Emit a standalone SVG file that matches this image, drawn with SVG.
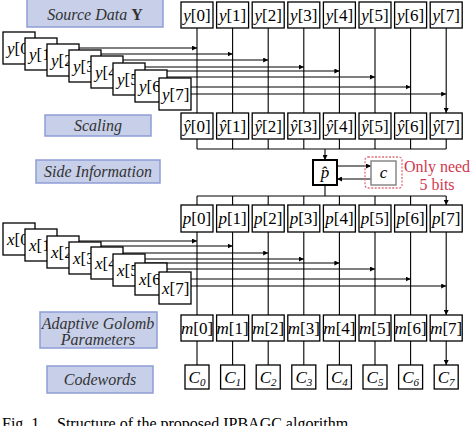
<svg xmlns="http://www.w3.org/2000/svg" width="474" height="426" viewBox="0 0 474 426">
<style>
.bx{fill:#fff;stroke:#000;stroke-width:1.3}
.lb{fill:#c7cfe9;stroke:#8e9dd6;stroke-width:1.5}
.lt{font-family:"Liberation Serif","Times New Roman",serif;font-style:italic;font-size:16px;fill:#333;text-anchor:middle}
.t{font-family:"Liberation Serif","Times New Roman",serif;font-size:17px;fill:#000;text-anchor:middle}
.tl{font-family:"Liberation Serif","Times New Roman",serif;font-size:17px;fill:#000}
.i{font-style:italic}
.ln{stroke:#000;stroke-width:1.1;fill:none}
.red{font-family:"Liberation Serif","Times New Roman",serif;font-size:16px;fill:#d0384e;text-anchor:middle}
</style>
<defs>
<marker id="a" viewBox="0 0 8 8" refX="8" refY="4" markerWidth="5" markerHeight="5" orient="auto" markerUnits="userSpaceOnUse">
<path d="M0,0 L8,4 L0,8 z" fill="#000"/>
</marker>
</defs>

<g id="labels">
<g id="lbl-source"><rect class="lb" x="27" y="-2" width="136" height="29"/><text class="lt" x="95" y="20">Source Data <tspan font-style="normal" font-weight="bold">Y</tspan></text></g>
<g id="lbl-scaling"><rect class="lb" x="45" y="115" width="106" height="21"/><text class="lt" x="98" y="131">Scaling</text></g>
<g id="lbl-side"><rect class="lb" x="36" y="160" width="124" height="23"/><text class="lt" x="98" y="177">Side Information</text></g>
<g id="lbl-agp"><rect class="lb" x="40" y="312" width="117" height="36"/><text class="lt" x="98" y="329">Adaptive Golomb</text><text class="lt" x="98" y="345">Parameters</text></g>
<g id="lbl-code"><rect class="lb" x="47" y="366" width="106" height="27"/><text class="lt" x="100" y="385">Codewords</text></g>
</g>

<g id="connectors">
<path class="ln" marker-end="url(#a)" d="M197,28 V113 M232.6,28 V113 M268.2,28 V113 M303.8,28 V113 M339.4,28 V113 M375,28 V113 M410.6,28 V113 M446.2,28 V113"/>
<path class="ln" marker-end="url(#a)" d="M35,48 H197"/>
<path class="ln" marker-end="url(#a)" d="M57,54 H232.6"/>
<path class="ln" marker-end="url(#a)" d="M79,60 H268.2"/>
<path class="ln" marker-end="url(#a)" d="M101,67 H303.8"/>
<path class="ln" marker-end="url(#a)" d="M123,71 H339.4"/>
<path class="ln" marker-end="url(#a)" d="M145,77 H375"/>
<path class="ln" marker-end="url(#a)" d="M167,87 H410.6"/>
<path class="ln" marker-end="url(#a)" d="M191,94 H446.2"/>
<path class="ln" d="M197,139 V149 M232.6,139 V149 M268.2,139 V149 M303.8,139 V149 M339.4,139 V149 M375,139 V149 M410.6,139 V149 M446.2,139 V149 M197,149 H446.2"/>
<path class="ln" marker-end="url(#a)" d="M325,149 V160"/>
<path class="ln" marker-end="url(#a)" d="M337,166 H371"/>
<path class="ln" marker-end="url(#a)" d="M371,179 H337"/>
<path class="ln" d="M325,185 V196 M197,196 H446.2"/>
<path class="ln" marker-end="url(#a)" d="M197,196 V205 M232.6,196 V205 M268.2,196 V205 M303.8,196 V205 M339.4,196 V205 M375,196 V205 M410.6,196 V205 M446.2,196 V205"/>
<path class="ln" marker-end="url(#a)" d="M197,232 V315 M232.6,232 V315 M268.2,232 V315 M303.8,232 V315 M339.4,232 V315 M375,232 V315 M410.6,232 V315 M446.2,232 V315"/>
<path class="ln" marker-end="url(#a)" d="M35,241 H197"/>
<path class="ln" marker-end="url(#a)" d="M57,246 H232.6"/>
<path class="ln" marker-end="url(#a)" d="M79,253 H268.2"/>
<path class="ln" marker-end="url(#a)" d="M101,259 H303.8"/>
<path class="ln" marker-end="url(#a)" d="M123,263 H339.4"/>
<path class="ln" marker-end="url(#a)" d="M145,269 H375"/>
<path class="ln" marker-end="url(#a)" d="M167,279 H410.6"/>
<path class="ln" marker-end="url(#a)" d="M191,286 H446.2"/>
<path class="ln" marker-end="url(#a)" d="M197,341 V365 M232.6,341 V365 M268.2,341 V365 M303.8,341 V365 M339.4,341 V365 M375,341 V365 M410.6,341 V365 M446.2,341 V365"/>
</g>

<g id="y-cascade">
<g id="yc0"><rect class="bx" x="3" y="32" width="32" height="32"/><text class="tl" x="7" y="54"><tspan class="i">y</tspan>[0]</text></g>
<g id="yc1"><rect class="bx" x="25" y="38" width="32" height="32"/><text class="tl" x="29" y="60"><tspan class="i">y</tspan>[1]</text></g>
<g id="yc2"><rect class="bx" x="47" y="44" width="32" height="32"/><text class="tl" x="51" y="66"><tspan class="i">y</tspan>[2]</text></g>
<g id="yc3"><rect class="bx" x="69" y="50" width="32" height="32"/><text class="tl" x="73" y="72"><tspan class="i">y</tspan>[3]</text></g>
<g id="yc4"><rect class="bx" x="91" y="56" width="32" height="32"/><text class="tl" x="95" y="78"><tspan class="i">y</tspan>[4]</text></g>
<g id="yc5"><rect class="bx" x="113" y="63" width="32" height="32"/><text class="tl" x="117" y="85"><tspan class="i">y</tspan>[5]</text></g>
<g id="yc6"><rect class="bx" x="135" y="70" width="32" height="32"/><text class="tl" x="139" y="92"><tspan class="i">y</tspan>[6]</text></g>
<g id="yc7"><rect class="bx" x="159" y="78" width="32" height="32"/><text class="tl" x="162" y="100"><tspan class="i">y</tspan>[7]</text></g>
</g>

<g id="x-cascade">
<g id="xc0"><rect class="bx" x="3" y="223" width="32" height="32"/><text class="tl" x="7" y="245"><tspan class="i">x</tspan>[0]</text></g>
<g id="xc1"><rect class="bx" x="25" y="229" width="32" height="32"/><text class="tl" x="29" y="251"><tspan class="i">x</tspan>[1]</text></g>
<g id="xc2"><rect class="bx" x="47" y="236" width="32" height="32"/><text class="tl" x="51" y="258"><tspan class="i">x</tspan>[2]</text></g>
<g id="xc3"><rect class="bx" x="69" y="242" width="32" height="32"/><text class="tl" x="73" y="264"><tspan class="i">x</tspan>[3]</text></g>
<g id="xc4"><rect class="bx" x="91" y="247" width="32" height="32"/><text class="tl" x="95" y="269"><tspan class="i">x</tspan>[4]</text></g>
<g id="xc5"><rect class="bx" x="113" y="254" width="32" height="32"/><text class="tl" x="117" y="276"><tspan class="i">x</tspan>[5]</text></g>
<g id="xc6"><rect class="bx" x="135" y="263" width="32" height="32"/><text class="tl" x="139" y="285"><tspan class="i">x</tspan>[6]</text></g>
<g id="xc7"><rect class="bx" x="159" y="272" width="32" height="32"/><text class="tl" x="162" y="294"><tspan class="i">x</tspan>[7]</text></g>
</g>

<g id="y-row">
<g id="y0"><rect class="bx" x="181" y="2" width="32" height="26"/><text class="t" x="197" y="21"><tspan class="i">y</tspan>[0]</text></g>
<g id="y1"><rect class="bx" x="216.6" y="2" width="32" height="26"/><text class="t" x="232.6" y="21"><tspan class="i">y</tspan>[1]</text></g>
<g id="y2"><rect class="bx" x="252.2" y="2" width="32" height="26"/><text class="t" x="268.2" y="21"><tspan class="i">y</tspan>[2]</text></g>
<g id="y3"><rect class="bx" x="287.8" y="2" width="32" height="26"/><text class="t" x="303.8" y="21"><tspan class="i">y</tspan>[3]</text></g>
<g id="y4"><rect class="bx" x="323.4" y="2" width="32" height="26"/><text class="t" x="339.4" y="21"><tspan class="i">y</tspan>[4]</text></g>
<g id="y5"><rect class="bx" x="359" y="2" width="32" height="26"/><text class="t" x="375" y="21"><tspan class="i">y</tspan>[5]</text></g>
<g id="y6"><rect class="bx" x="394.6" y="2" width="32" height="26"/><text class="t" x="410.6" y="21"><tspan class="i">y</tspan>[6]</text></g>
<g id="y7"><rect class="bx" x="430.2" y="2" width="32" height="26"/><text class="t" x="446.2" y="21"><tspan class="i">y</tspan>[7]</text></g>
</g>

<g id="yhat-row">
<g id="yh0"><rect class="bx" x="181" y="113" width="32" height="26"/><text class="t" x="197" y="132"><tspan class="i">ŷ</tspan>[0]</text></g>
<g id="yh1"><rect class="bx" x="216.6" y="113" width="32" height="26"/><text class="t" x="232.6" y="132"><tspan class="i">ŷ</tspan>[1]</text></g>
<g id="yh2"><rect class="bx" x="252.2" y="113" width="32" height="26"/><text class="t" x="268.2" y="132"><tspan class="i">ŷ</tspan>[2]</text></g>
<g id="yh3"><rect class="bx" x="287.8" y="113" width="32" height="26"/><text class="t" x="303.8" y="132"><tspan class="i">ŷ</tspan>[3]</text></g>
<g id="yh4"><rect class="bx" x="323.4" y="113" width="32" height="26"/><text class="t" x="339.4" y="132"><tspan class="i">ŷ</tspan>[4]</text></g>
<g id="yh5"><rect class="bx" x="359" y="113" width="32" height="26"/><text class="t" x="375" y="132"><tspan class="i">ŷ</tspan>[5]</text></g>
<g id="yh6"><rect class="bx" x="394.6" y="113" width="32" height="26"/><text class="t" x="410.6" y="132"><tspan class="i">ŷ</tspan>[6]</text></g>
<g id="yh7"><rect class="bx" x="430.2" y="113" width="32" height="26"/><text class="t" x="446.2" y="132"><tspan class="i">ŷ</tspan>[7]</text></g>
</g>

<g id="phat"><rect x="313" y="160" width="24" height="25" fill="#fff" stroke="#000" stroke-width="2"/><text class="t i" x="325" y="178">p̂</text></g>
<g id="c-node">
<rect x="365" y="157" width="37" height="31" rx="3" fill="none" stroke="#e0707f" stroke-width="1.3" stroke-dasharray="2,1.5"/>
<rect x="371" y="161" width="25" height="24" fill="#fff" stroke="#888" stroke-width="1.5"/>
<text class="t i" x="383.5" y="178">c</text>
</g>
<g id="note"><text class="red" x="437" y="172">Only need</text><text class="red" x="437" y="190">5 bits</text></g>

<g id="p-row">
<g id="p0"><rect class="bx" x="181" y="205" width="32" height="27"/><text class="t" x="197" y="224"><tspan class="i">p</tspan>[0]</text></g>
<g id="p1"><rect class="bx" x="216.6" y="205" width="32" height="27"/><text class="t" x="232.6" y="224"><tspan class="i">p</tspan>[1]</text></g>
<g id="p2"><rect class="bx" x="252.2" y="205" width="32" height="27"/><text class="t" x="268.2" y="224"><tspan class="i">p</tspan>[2]</text></g>
<g id="p3"><rect class="bx" x="287.8" y="205" width="32" height="27"/><text class="t" x="303.8" y="224"><tspan class="i">p</tspan>[3]</text></g>
<g id="p4"><rect class="bx" x="323.4" y="205" width="32" height="27"/><text class="t" x="339.4" y="224"><tspan class="i">p</tspan>[4]</text></g>
<g id="p5"><rect class="bx" x="359" y="205" width="32" height="27"/><text class="t" x="375" y="224"><tspan class="i">p</tspan>[5]</text></g>
<g id="p6"><rect class="bx" x="394.6" y="205" width="32" height="27"/><text class="t" x="410.6" y="224"><tspan class="i">p</tspan>[6]</text></g>
<g id="p7"><rect class="bx" x="430.2" y="205" width="32" height="27"/><text class="t" x="446.2" y="224"><tspan class="i">p</tspan>[7]</text></g>
</g>

<g id="m-row">
<g id="m0"><rect class="bx" x="181" y="315" width="32" height="26"/><text class="t" x="197" y="334"><tspan class="i">m</tspan>[0]</text></g>
<g id="m1"><rect class="bx" x="216.6" y="315" width="32" height="26"/><text class="t" x="232.6" y="334"><tspan class="i">m</tspan>[1]</text></g>
<g id="m2"><rect class="bx" x="252.2" y="315" width="32" height="26"/><text class="t" x="268.2" y="334"><tspan class="i">m</tspan>[2]</text></g>
<g id="m3"><rect class="bx" x="287.8" y="315" width="32" height="26"/><text class="t" x="303.8" y="334"><tspan class="i">m</tspan>[3]</text></g>
<g id="m4"><rect class="bx" x="323.4" y="315" width="32" height="26"/><text class="t" x="339.4" y="334"><tspan class="i">m</tspan>[4]</text></g>
<g id="m5"><rect class="bx" x="359" y="315" width="32" height="26"/><text class="t" x="375" y="334"><tspan class="i">m</tspan>[5]</text></g>
<g id="m6"><rect class="bx" x="394.6" y="315" width="32" height="26"/><text class="t" x="410.6" y="334"><tspan class="i">m</tspan>[6]</text></g>
<g id="m7"><rect class="bx" x="430.2" y="315" width="32" height="26"/><text class="t" x="446.2" y="334"><tspan class="i">m</tspan>[7]</text></g>
</g>

<g id="c-row">
<g id="C0"><rect class="bx" x="185" y="365" width="24" height="24"/><text class="t i" x="197" y="383">C<tspan font-size="11" dy="3">0</tspan></text></g>
<g id="C1"><rect class="bx" x="220.6" y="365" width="24" height="24"/><text class="t i" x="232.6" y="383">C<tspan font-size="11" dy="3">1</tspan></text></g>
<g id="C2"><rect class="bx" x="256.2" y="365" width="24" height="24"/><text class="t i" x="268.2" y="383">C<tspan font-size="11" dy="3">2</tspan></text></g>
<g id="C3"><rect class="bx" x="291.8" y="365" width="24" height="24"/><text class="t i" x="303.8" y="383">C<tspan font-size="11" dy="3">3</tspan></text></g>
<g id="C4"><rect class="bx" x="327.4" y="365" width="24" height="24"/><text class="t i" x="339.4" y="383">C<tspan font-size="11" dy="3">4</tspan></text></g>
<g id="C5"><rect class="bx" x="363" y="365" width="24" height="24"/><text class="t i" x="375" y="383">C<tspan font-size="11" dy="3">5</tspan></text></g>
<g id="C6"><rect class="bx" x="398.6" y="365" width="24" height="24"/><text class="t i" x="410.6" y="383">C<tspan font-size="11" dy="3">6</tspan></text></g>
<g id="C7"><rect class="bx" x="434.2" y="365" width="24" height="24"/><text class="t i" x="446.2" y="383">C<tspan font-size="11" dy="3">7</tspan></text></g>
</g>

<text id="caption" font-family="'Liberation Serif','Times New Roman',serif" font-size="16" fill="#000" x="2" y="429">Fig. 1.<tspan x="57">Structure of the proposed IPBAGC algorithm.</tspan></text>
</svg>
